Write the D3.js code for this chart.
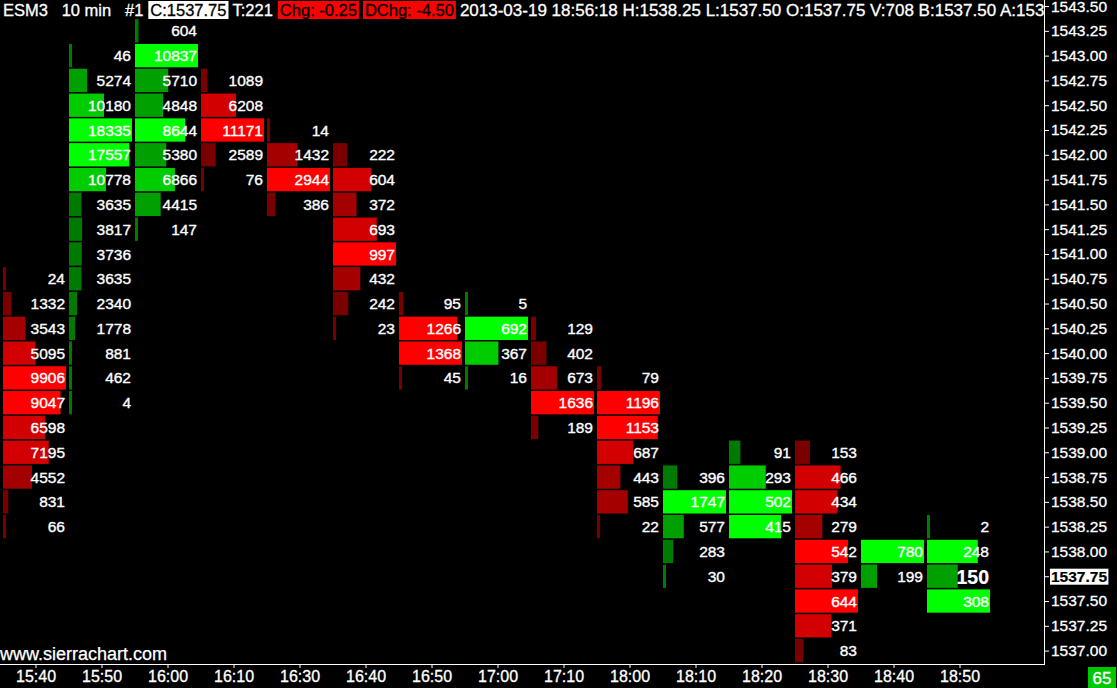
<!DOCTYPE html>
<html><head><meta charset="utf-8">
<script src="https://cdn.jsdelivr.net/npm/d3@7"></script>
<style>
body{margin:0;background:#000;overflow:hidden}
svg{display:block}
text{font-family:"Liberation Sans",Arial,sans-serif}
</style>
</head><body><svg id="c" width="1117" height="688"></svg>
<script>
// ---------- data ----------
const times = ["15:40","15:50","16:00","16:10","16:30","16:40","16:50","17:00","17:10","18:00","18:10","18:20","18:30","18:40","18:50"];
const barDirection = ["down","up","up","down","down","down","down","up","down","down","up","up","down","up","up"];
const topPrices = [1540.75,1543.00,1543.25,1542.75,1542.25,1542.00,1540.50,1540.50,1540.25,1539.75,1538.75,1539.00,1539.00,1538.00,1538.25];
const vol1540 = [24,1332,3543,5095,9906,9047,6598,7195,4552,831,66];
const vol1550 = [46,5274,10180,18335,17557,10778,3635,3817,3736,3635,2340,1778,881,462,4];
const vol1600 = [604,10837,5710,4848,8644,5380,6866,4415,147];
const vol1610 = [1089,6208,11171,2589,76];
const vol1630 = [14,1432,2944,386];
const vol1640 = [222,604,372,693,997,432,242,23];
const vol1650 = [95,1266,1368,45];
const vol1700 = [5,692,367,16];
const vol1710 = [129,402,673,1636,189];
const vol1800 = [79,1196,1153,687,443,585,22];
const vol1810 = [396,1747,577,283,30];
const vol1820 = [91,293,502,415];
const vol1830 = [153,466,434,279,542,379,644,371,83];
const vol1840 = [780,199];
const vol1850 = [2,248,150,308];
const volumes = [vol1540,vol1550,vol1600,vol1610,vol1630,vol1640,vol1650,vol1700,vol1710,vol1800,vol1810,vol1820,vol1830,vol1840,vol1850];
const priceTicks = [1543.50,1543.25,1543.00,1542.75,1542.50,1542.25,1542.00,1541.75,1541.50,1541.25,1541.00,1540.75,1540.50,1540.25,1540.00,1539.75,1539.50,1539.25,1539.00,1538.75,1538.50,1538.25,1538.00,1537.75,1537.50,1537.25,1537.00];
const currentPrice = 1537.75;
const headerItems = [
  {t:"ESM3   10 min   #1", bg:null, gap:5, size:16.5},
  {t:"C:1537.75", bg:"#ffffff", gap:4, size:16.5},
  {t:"T:221", bg:null, gap:5, size:16.5},
  {t:"Chg: -0.25", bg:"#ff0000", gap:4, size:16.5},
  {t:"DChg: -4.50", bg:"#ff0000", gap:4, size:16.5},
  {t:"2013-03-19 18:56:18 H:1538.25 L:1537.50 O:1537.75 V:708 B:1537.50 A:1537.75", bg:null, gap:5, size:17}
];
const footerText = "www.sierrachart.com";
const cornerValue = "65";

// ---------- styles ----------
const redShades = ["#7a0000","#a40000","#d20000","#ff0000"];
const greenShades = ["#007a00","#00a000","#00cc00","#00ff00"];
function shade(frac, dir){
  const mid = dir==="up" ? 0.528 : 0.5;
  return frac>=0.75?3: frac>=mid?2: frac>=0.25?1:0;
}
const FONT = '"Liberation Sans",Arial,sans-serif';

const svg = d3.select("#c");
const W=1117, H=688, plotRight=1044, plotBottom=664;
svg.append("rect").attr("width",W).attr("height",H).attr("fill","#000");

const x = d3.scaleBand().domain(times).range([3, 3+66*times.length]);
const y = d3.scaleLinear().domain([1537, 1543.5]).range([650.6, 6.05]);
const step = y(1537) - y(1537.25);
const barH = step - 1.5;
const maxW = x.bandwidth() - 3;

const cells = [];
times.forEach((t,i)=>{
  const vs = volumes[i];
  const m = d3.max(vs);
  const w = d3.scaleLinear().domain([0,m]).range([0,maxW]);
  vs.forEach((v,j)=>{
    cells.push({t, v, p: topPrices[i]-0.25*j, w: Math.max(3, w(v)), frac: v/m, dir: barDirection[i], last: i===times.length-1});
  });
});

const g = svg.append("g");
g.selectAll("rect.cell").data(cells).join("rect")
  .attr("class","cell")
  .attr("x", d=>x(d.t))
  .attr("y", d=>y(d.p)-barH/2)
  .attr("width", d=>d.w)
  .attr("height", barH)
  .attr("fill", d=>(d.dir==="up"?greenShades:redShades)[shade(d.frac, d.dir)]);

const isCur = d => d.last && d.p===currentPrice;
g.selectAll("text.num").data(cells).join("text")
  .attr("class","num")
  .attr("x", d=>x(d.t)+62)
  .attr("y", d=>y(d.p))
  .attr("dy", d=>isCur(d)?"0.4em":"0.36em")
  .attr("text-anchor","end")
  .attr("fill","#fff")
  .attr("stroke","#fff").attr("stroke-width", d=>isCur(d)?0.2:0.35)
  .attr("font-size", d=>isCur(d)?"19.5px":"15.5px")
  .attr("font-weight", d=>isCur(d)?"bold":"normal")
  .text(d=>d.v);

// ---------- axes ----------
svg.append("line").attr("x1",0).attr("x2",plotRight).attr("y1",plotBottom+0.5).attr("y2",plotBottom+0.5).attr("stroke","#fff");
svg.append("line").attr("x1",plotRight+0.5).attr("x2",plotRight+0.5).attr("y1",0).attr("y2",plotBottom+1).attr("stroke","#fff");

const xAxis = svg.append("g").attr("transform",`translate(0,${plotBottom})`)
  .call(d3.axisBottom(x).tickSize(4).tickSizeOuter(0).tickPadding(3));
xAxis.select(".domain").remove();
xAxis.selectAll("line").attr("stroke","#fff");
xAxis.selectAll("text").attr("fill","#fff").attr("stroke","#fff").attr("stroke-width",0.3)
  .attr("font-size","16px").attr("font-family",FONT);

const yAxis = svg.append("g").attr("transform",`translate(${plotRight+1},0)`)
  .call(d3.axisRight(y).tickValues(priceTicks).tickSize(4).tickPadding(2).tickFormat(d3.format(".2f")));
yAxis.select(".domain").remove();
yAxis.selectAll("line").attr("stroke","#fff");
yAxis.selectAll("text").attr("fill","#fff").attr("stroke","#fff").attr("stroke-width",0.3)
  .attr("font-size","15.5px").attr("font-family",FONT);
yAxis.selectAll(".tick").filter(d=>d===currentPrice).each(function(){
  const tk = d3.select(this);
  const tx = tk.select("text").attr("fill","#000").attr("stroke","#000").attr("stroke-width",0.2).attr("font-weight","bold");
  const bb = tx.node().getBBox();
  tk.insert("rect","text").attr("x",bb.x-1).attr("y",bb.y+1).attr("width",bb.width+2).attr("height",bb.height-1).attr("fill","#fff");
});

// ---------- header ----------
svg.append("clipPath").attr("id","hc").append("rect").attr("x",0).attr("y",0).attr("width",plotRight).attr("height",22);
const hdr = svg.append("g").attr("clip-path","url(#hc)");
let hx = 3;
headerItems.forEach(it=>{
  const col = it.bg?"#000":"#fff";
  const tx = hdr.append("text").attr("x",hx+(it.bg?2:0)).attr("y",15.5).attr("font-size",it.size+"px")
    .attr("xml:space","preserve").style("white-space","pre")
    .attr("fill", col).attr("stroke",col).attr("stroke-width",0.3).text(it.t);
  const wd = tx.node().getComputedTextLength();
  if(it.bg){
    hdr.insert("rect","text").attr("x",hx).attr("y",1).attr("width",wd+4).attr("height",18).attr("fill",it.bg);
    hx += wd+4+it.gap;
  } else hx += wd+it.gap;
});

// ---------- footer ----------
svg.append("text").attr("x",0).attr("y",660).attr("font-size","18px").attr("fill","#fff")
  .attr("stroke","#fff").attr("stroke-width",0.25).text(footerText);
svg.append("rect").attr("x",1088).attr("y",667).attr("width",28).attr("height",21).attr("fill","#00c800");
svg.append("text").attr("x",1102).attr("y",684).attr("text-anchor","middle").attr("font-size","17px")
  .attr("fill","#fff").attr("stroke","#fff").attr("stroke-width",0.3).text(cornerValue);
</script>
</body></html>
